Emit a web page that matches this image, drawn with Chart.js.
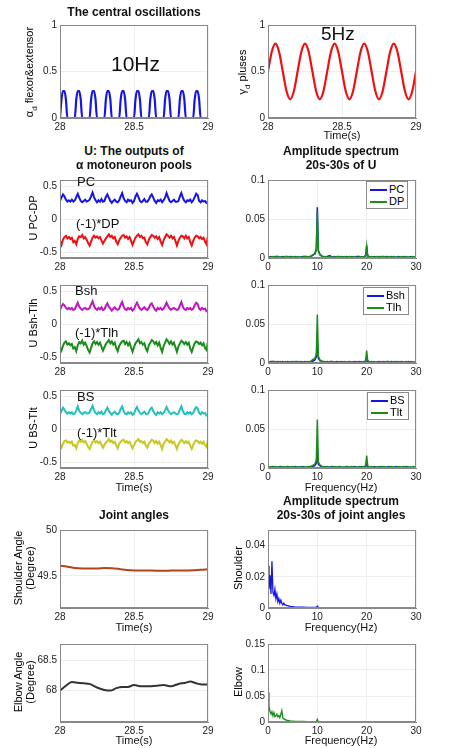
<!DOCTYPE html>
<html><head><meta charset="utf-8">
<script src="https://cdn.jsdelivr.net/npm/chart.js@4.4.1/dist/chart.umd.min.js"></script>
<style>
body{margin:0;width:474px;height:748px;background:#fff;position:relative;overflow:hidden;font-family:"Liberation Sans",Arial,sans-serif;}
canvas{position:absolute;}
.t{position:absolute;white-space:nowrap;color:#111;}
.b{font-weight:bold;font-size:12px;transform:translateX(-50%);text-align:center;}
.ax{font-size:11px;transform:translateX(-50%);}
.rot{position:absolute;font-size:11px;white-space:nowrap;transform:translate(-50%,-50%) rotate(-90deg);text-align:center;line-height:12px;}
.lg{position:absolute;border:1px solid #888;background:#fff;font-size:11px;line-height:12px;padding:1px 3px;}
.lg span{display:inline-block;width:17px;height:2px;vertical-align:middle;margin-right:2px;}
</style></head><body>
<script>
// ---------- data ----------
const ALPHA_D = [0,0.2,0.29,0.29,0.2,0,0,0,0,0, 0,0.2,0.29,0.29,0.2,0,0,0,0,0, 0,0.2,0.29,0.29,0.2,0,0,0,0,0, 0,0.2,0.29,0.29,0.2,0,0,0,0,0, 0,0.2,0.29,0.29,0.2,0,0,0,0,0,
 0,0.2,0.29,0.29,0.2,0,0,0,0,0, 0,0.2,0.29,0.29,0.2,0,0,0,0,0, 0,0.2,0.29,0.29,0.2,0,0,0,0,0, 0,0.2,0.29,0.29,0.2,0,0,0,0,0, 0,0.2,0.29,0.29,0.2,0,0,0,0,0, 0];
const GAMMA_D = [0.5,0.71,0.8,0.71,0.5,0.29,0.2,0.29, 0.5,0.71,0.8,0.71,0.5,0.29,0.2,0.29, 0.5,0.71,0.8,0.71,0.5,0.29,0.2,0.29, 0.5,0.71,0.8,0.71,0.5,0.29,0.2,0.29, 0.5,0.71,0.8,0.71,0.5,0.29,0.2,0.29, 0.5];
const U_PC = [0.28,0.33,0.38,0.35,0.30,0.27,0.29,0.27,0.30,0.27, 0.29,0.34,0.39,0.33,0.28,0.26,0.28,0.30,0.27,0.28, 0.30,0.35,0.41,0.34,0.29,0.26,0.29,0.27,0.31,0.27, 0.28,0.34,0.38,0.33,0.28,0.25,0.28,0.30,0.27,0.26,
 0.29,0.35,0.40,0.32,0.28,0.26,0.30,0.28,0.29,0.25, 0.28,0.35,0.39,0.34,0.28,0.26,0.28,0.31,0.27,0.27, 0.30,0.35,0.38,0.33,0.28,0.25,0.29,0.28,0.30,0.26, 0.29,0.33,0.40,0.34,0.28,0.26,0.28,0.30,0.27,0.27,
 0.28,0.35,0.40,0.33,0.28,0.26,0.29,0.28,0.30,0.26, 0.29,0.34,0.39,0.37,0.28,0.26,0.29,0.27,0.28,0.25, 0.25];
const U_DP = [-0.33,-0.39,-0.31,-0.27,-0.25,-0.29,-0.27,-0.30,-0.28,-0.35, -0.33,-0.38,-0.30,-0.26,-0.27,-0.24,-0.29,-0.27,-0.31,-0.36, -0.40,-0.34,-0.28,-0.25,-0.28,-0.26,-0.29,-0.27,-0.32,-0.37, -0.33,-0.29,-0.26,-0.23,-0.27,-0.25,-0.29,-0.27,-0.34,-0.38,
 -0.32,-0.28,-0.25,-0.24,-0.28,-0.26,-0.30,-0.27,-0.33,-0.39, -0.33,-0.28,-0.25,-0.23,-0.27,-0.25,-0.29,-0.28,-0.35,-0.38, -0.31,-0.27,-0.24,-0.25,-0.28,-0.26,-0.30,-0.27,-0.34,-0.39, -0.32,-0.27,-0.23,-0.25,-0.28,-0.25,-0.29,-0.27,-0.33,-0.40,
 -0.33,-0.28,-0.25,-0.26,-0.29,-0.25,-0.29,-0.27,-0.35,-0.40, -0.33,-0.28,-0.25,-0.26,-0.29,-0.27,-0.30,-0.28,-0.34,-0.38, -0.25];
const U_BSH = [0.22,0.27,0.31,0.29,0.25,0.23,0.25,0.23,0.25,0.22, 0.23,0.28,0.33,0.27,0.24,0.22,0.24,0.25,0.23,0.23, 0.25,0.30,0.35,0.28,0.24,0.22,0.25,0.23,0.26,0.22, 0.23,0.28,0.32,0.27,0.24,0.21,0.24,0.26,0.23,0.22,
 0.24,0.30,0.34,0.27,0.23,0.22,0.25,0.23,0.25,0.21, 0.23,0.29,0.33,0.28,0.24,0.22,0.24,0.26,0.23,0.22, 0.25,0.30,0.32,0.27,0.23,0.21,0.25,0.23,0.25,0.22, 0.24,0.28,0.33,0.28,0.24,0.22,0.24,0.25,0.23,0.22,
 0.23,0.29,0.34,0.27,0.23,0.22,0.25,0.23,0.25,0.22, 0.24,0.29,0.33,0.31,0.24,0.22,0.25,0.23,0.24,0.20, 0.20];
const U_TLH = [-0.35,-0.40,-0.33,-0.28,-0.26,-0.31,-0.29,-0.32,-0.30,-0.37, -0.35,-0.41,-0.32,-0.27,-0.29,-0.25,-0.31,-0.28,-0.33,-0.39, -0.43,-0.36,-0.29,-0.26,-0.30,-0.27,-0.31,-0.28,-0.34,-0.40, -0.35,-0.30,-0.27,-0.24,-0.29,-0.26,-0.31,-0.28,-0.36,-0.41,
 -0.33,-0.29,-0.26,-0.25,-0.30,-0.27,-0.32,-0.28,-0.35,-0.42, -0.35,-0.29,-0.26,-0.23,-0.29,-0.27,-0.31,-0.29,-0.37,-0.41, -0.32,-0.28,-0.24,-0.26,-0.30,-0.27,-0.32,-0.28,-0.36,-0.42, -0.33,-0.28,-0.23,-0.26,-0.30,-0.26,-0.31,-0.28,-0.35,-0.42,
 -0.34,-0.29,-0.25,-0.27,-0.30,-0.27,-0.31,-0.28,-0.37,-0.42, -0.35,-0.29,-0.26,-0.27,-0.30,-0.28,-0.32,-0.29,-0.36,-0.39, -0.26];
const U_BS = [0.23,0.28,0.33,0.30,0.26,0.24,0.26,0.24,0.26,0.23, 0.24,0.29,0.35,0.28,0.25,0.23,0.25,0.26,0.24,0.24, 0.26,0.31,0.36,0.29,0.25,0.23,0.26,0.24,0.27,0.23, 0.24,0.29,0.33,0.28,0.25,0.22,0.25,0.27,0.24,0.23,
 0.25,0.31,0.35,0.28,0.24,0.23,0.26,0.24,0.26,0.22, 0.24,0.30,0.34,0.29,0.25,0.23,0.25,0.27,0.24,0.23, 0.26,0.31,0.33,0.28,0.24,0.22,0.26,0.24,0.26,0.23, 0.25,0.29,0.34,0.29,0.25,0.23,0.25,0.26,0.24,0.23,
 0.24,0.30,0.35,0.28,0.24,0.23,0.26,0.24,0.26,0.23, 0.25,0.30,0.34,0.32,0.25,0.23,0.26,0.24,0.25,0.21, 0.21];
const U_TLT = [-0.24,-0.28,-0.22,-0.18,-0.17,-0.20,-0.19,-0.21,-0.19,-0.25, -0.24,-0.29,-0.21,-0.17,-0.19,-0.16,-0.20,-0.18,-0.22,-0.27, -0.30,-0.24,-0.19,-0.17,-0.20,-0.18,-0.21,-0.19,-0.23,-0.28, -0.24,-0.20,-0.18,-0.15,-0.19,-0.17,-0.21,-0.19,-0.24,-0.29,
 -0.22,-0.19,-0.17,-0.16,-0.20,-0.18,-0.21,-0.19,-0.24,-0.29, -0.24,-0.19,-0.17,-0.15,-0.19,-0.18,-0.21,-0.19,-0.25,-0.28, -0.22,-0.19,-0.16,-0.17,-0.21,-0.18,-0.22,-0.19,-0.24,-0.30, -0.22,-0.19,-0.15,-0.17,-0.20,-0.17,-0.21,-0.19,-0.24,-0.30,
 -0.23,-0.19,-0.16,-0.18,-0.21,-0.18,-0.21,-0.19,-0.25,-0.30, -0.24,-0.19,-0.17,-0.18,-0.21,-0.19,-0.22,-0.19,-0.24,-0.27, -0.17];
const FREQ = [0,0.5,1,1.5,2,2.5,3,3.5,4,4.5,5,5.5,6,6.5,7,7.5,8,8.5,9,9.5, 9.8,10,10.2,
 10.5,11,11.5,12,12.5,13,13.5,14,14.5,15,15.5,16,16.5,17,17.5,18,18.5,19,19.5, 19.8,20,20.2,
 20.5,21,21.5,22,22.5,23,23.5,24,24.5,25,25.5,26,26.5,27,27.5,28,28.5,29,29.5,30];
const S_PC = [0.001,0.002,0.001,0.002,0.002,0.001,0.002,0.001,0.001,0.002,0.001,0.002,0.001,0.001,0.002,0.002,0.001,0.002,0.003,0.006, 0.012,0.065,0.010,
 0.005,0.002,0.001,0.002,0.003,0.001,0.002,0.001,0.001,0.002,0.001,0.002,0.001,0.002,0.001,0.002,0.002,0.001,0.002, 0.003,0.016,0.003,
 0.002,0.001,0.002,0.001,0.002,0.001,0.001,0.002,0.001,0.002,0.001,0.001,0.002,0.001,0.002,0.001,0.001,0.002,0.001,0.001];
const S_DP = [0.002,0.001,0.002,0.001,0.002,0.001,0.001,0.002,0.002,0.001,0.002,0.001,0.002,0.001,0.001,0.002,0.002,0.001,0.004,0.005, 0.010,0.060,0.009,
 0.004,0.002,0.002,0.001,0.002,0.001,0.001,0.002,0.002,0.001,0.002,0.001,0.002,0.001,0.002,0.001,0.001,0.002,0.001, 0.003,0.015,0.002,
 0.001,0.002,0.001,0.002,0.001,0.002,0.002,0.001,0.002,0.001,0.002,0.001,0.001,0.002,0.001,0.002,0.001,0.001,0.002,0.001];
const S_BSH = [0.001,0.002,0.002,0.001,0.002,0.001,0.002,0.001,0.002,0.001,0.002,0.001,0.001,0.002,0.001,0.002,0.001,0.002,0.002,0.004, 0.008,0.030,0.006,
 0.003,0.002,0.001,0.002,0.001,0.002,0.001,0.002,0.001,0.002,0.001,0.001,0.002,0.001,0.002,0.001,0.002,0.001,0.002, 0.002,0.008,0.002,
 0.001,0.002,0.001,0.001,0.002,0.001,0.002,0.001,0.001,0.002,0.001,0.002,0.001,0.002,0.001,0.001,0.002,0.001,0.001,0.001];
const S_TLH = [0.002,0.001,0.002,0.002,0.001,0.002,0.001,0.002,0.001,0.002,0.001,0.002,0.002,0.001,0.002,0.001,0.002,0.001,0.004,0.006, 0.011,0.062,0.009,
 0.004,0.002,0.002,0.001,0.002,0.002,0.001,0.001,0.002,0.001,0.002,0.001,0.002,0.001,0.001,0.002,0.001,0.002,0.001, 0.003,0.016,0.003,
 0.002,0.001,0.002,0.001,0.001,0.002,0.001,0.002,0.002,0.001,0.002,0.001,0.002,0.001,0.001,0.002,0.001,0.002,0.001,0.001];
const S_BS = [0.001,0.001,0.002,0.001,0.001,0.002,0.001,0.001,0.002,0.001,0.001,0.002,0.001,0.001,0.002,0.001,0.001,0.002,0.002,0.003, 0.006,0.025,0.005,
 0.003,0.001,0.002,0.001,0.001,0.002,0.001,0.001,0.002,0.001,0.001,0.002,0.001,0.001,0.002,0.001,0.001,0.002,0.001, 0.002,0.007,0.002,
 0.001,0.001,0.002,0.001,0.001,0.002,0.001,0.001,0.002,0.001,0.001,0.002,0.001,0.001,0.001,0.002,0.001,0.001,0.001,0.001];
const S_TLT = [0.001,0.002,0.001,0.002,0.001,0.001,0.002,0.001,0.002,0.001,0.002,0.001,0.001,0.002,0.001,0.001,0.002,0.001,0.003,0.005, 0.010,0.062,0.008,
 0.004,0.002,0.001,0.002,0.001,0.001,0.002,0.001,0.002,0.001,0.001,0.002,0.001,0.002,0.001,0.001,0.002,0.001,0.002, 0.003,0.016,0.003,
 0.001,0.002,0.001,0.001,0.002,0.001,0.002,0.001,0.001,0.002,0.001,0.001,0.002,0.001,0.002,0.001,0.001,0.001,0.002,0.001];
const SHOULDER_T = [28,28.05,28.1,28.15,28.2,28.25,28.3,28.35,28.4,28.45,28.5,28.55,28.6,28.65,28.7,28.75,28.8,28.85,28.9,28.95,29];
const SHOULDER_ANG = [49.61,49.60,49.585,49.58,49.58,49.58,49.585,49.583,49.575,49.565,49.56,49.56,49.558,49.556,49.555,49.558,49.56,49.56,49.562,49.568,49.572];
const ELBOW_T = [28,28.04,28.08,28.12,28.16,28.2,28.25,28.3,28.34,28.38,28.42,28.46,28.5,28.55,28.6,28.65,28.7,28.75,28.8,28.85,28.88,28.92,28.96,29];
const ELBOW_ANG = [68.0,68.08,68.14,68.13,68.12,68.11,68.05,68.01,68.0,68.04,68.06,68.06,68.09,68.07,68.07,68.08,68.09,68.07,68.11,68.13,68.15,68.12,68.1,68.1];
const JFREQ = [0,0.2,0.4,0.6,0.8,1,1.2,1.4,1.6,1.8,2,2.2,2.4,2.6,2.8,3,3.2,3.4,3.6,3.8,4, 4.5,5,5.5,6,7,8,9,9.8,10,10.2,
 11,12,13,14,15,16,17,18,19,20,21,22,23,24,25,26,27,28,29,30];
const S_SHOULDER = [0.027,0.012,0.021,0.009,0.030,0.010,0.008,0.012,0.006,0.009,0.004,0.006,0.003,0.005,0.003,0.002,0.003,0.002,0.002,0.0015,0.0015, 0.001,0.0008,0.0006,0.0005,0.0005,0.0004,0.0004,0.0004,0.0012,0.0004,
 0.0003,0.0003,0.0003,0.0003,0.0003,0.0003,0.0003,0.0003,0.0003,0.0003,0.0003,0.0003,0.0003,0.0003,0.0003,0.0003,0.0003,0.0003,0.0003,0.0003];
const S_ELBOW = [0.057,0.030,0.020,0.015,0.020,0.012,0.018,0.010,0.012,0.015,0.010,0.012,0.008,0.015,0.022,0.008,0.006,0.005,0.004,0.003,0.003, 0.002,0.0015,0.001,0.001,0.001,0.0008,0.0008,0.0008,0.005,0.0008,
 0.0006,0.0006,0.0006,0.0006,0.0006,0.0006,0.0006,0.0006,0.0006,0.0006,0.0006,0.0006,0.0006,0.0006,0.0006,0.0006,0.0006,0.0006,0.0006,0.0006];
const T_TICKS = [28,28.5,29], F_TICKS = [0,10,20,30];

// ---------- helpers ----------
function steps(a,b,n){const r=[];for(let i=0;i<n;i++)r.push(+(a+(b-a)*i/(n-1)).toFixed(4));return r;}
const T01 = steps(28,29,101), T025 = steps(28,29,41);
function pts(xs,ys){return ys.map((y,i)=>({x:xs[i],y}));}
function chart(L,T,W,H,xr,xt,yr,yt,sets){
  const YW=30,PT=7,PR=10,XH=16;
  const c=document.createElement('canvas');
  c.style.left=(L-YW)+'px';c.style.top=(T-PT)+'px';
  c.style.width=(W+YW+PR)+'px';c.style.height=(H+PT+XH)+'px';
  c.width=W+YW+PR;c.height=H+PT+XH;
  document.body.appendChild(c);
  const fmt=v=>String(+v.toFixed(4));
  new Chart(c,{type:'line',data:{datasets:sets.map((s,i)=>({data:s.d,borderColor:s.c,borderWidth:s.w||2,pointRadius:0,
     tension:s.smooth?0.4:0,cubicInterpolationMode:s.smooth?'monotone':'default',fill:false,order:s.o===undefined?i:s.o}))},
   options:{animation:false,responsive:false,devicePixelRatio:1,layout:{padding:{top:PT,right:PR,left:0,bottom:0}},
    plugins:{legend:{display:false},tooltip:{enabled:false}},
    scales:{
     x:{type:'linear',min:xr[0],max:xr[1],afterFit:a=>{a.height=XH;},afterBuildTicks:a=>{a.ticks=xt.map(v=>({value:v}));},
        grid:{color:'#eeeeee',drawTicks:false},border:{color:'#888'},ticks:{color:'#222',font:{family:'Liberation Sans',size:10},padding:3,maxRotation:0,callback:fmt}},
     y:{type:'linear',min:yr[0],max:yr[1],afterFit:a=>{a.width=YW;},afterBuildTicks:a=>{a.ticks=yt.map(v=>({value:v}));},
        grid:{color:'#eeeeee',drawTicks:false},border:{color:'#888'},ticks:{color:'#222',font:{family:'Liberation Sans',size:10},padding:3,callback:fmt}}
    }},
   plugins:[{id:'box',afterDraw(ch){const a=ch.chartArea,g=ch.ctx;g.save();g.strokeStyle='#888';g.lineWidth=1;g.strokeRect(a.left+0.5,a.top+0.5,a.right-a.left-1,a.bottom-a.top-1);g.restore();}}]
  });
}
function txt(cls,x,y,html,style){const d=document.createElement('div');d.className=cls;d.style.left=x+'px';d.style.top=y+'px';d.innerHTML=html;if(style)d.style.cssText+=style;document.body.appendChild(d);}
function legend(x,y,a,b,ca,cb){const d=document.createElement('div');d.className='lg';d.style.left=x+'px';d.style.top=y+'px';
 d.innerHTML='<div><span style="background:'+ca+'"></span>'+a+'</div><div><span style="background:'+cb+'"></span>'+b+'</div>';document.body.appendChild(d);}

const BLUE='#1515e6',RED='#ee1111',MAG='#c015c0',GRN='#1a8c1a',CYA='#22c0c0',YEL='#c8c820';
const LX=60,LW=148,RX=268,RW=148;
// row 1
chart(LX,23,LW,95,[28,29],T_TICKS,[0,1],[0,0.5,1],[{d:pts(T01,ALPHA_D),c:BLUE,smooth:1,w:2.2}]);
chart(RX,23,RW,95,[28,29],T_TICKS,[0,1],[0,0.5,1],[{d:pts(T025,GAMMA_D),c:RED,smooth:1,w:2.2}]);
// U rows
const UY=[178,283,388], UR=[-0.59,0.6], UT=[-0.5,0,0.5];
chart(LX,UY[0],LW,80,[28,29],T_TICKS,UR,UT,[{d:pts(T01,U_PC),c:BLUE},{d:pts(T01,U_DP),c:RED}]);
chart(LX,UY[1],LW,80,[28,29],T_TICKS,UR,UT,[{d:pts(T01,U_BSH),c:MAG},{d:pts(T01,U_TLH),c:GRN}]);
chart(LX,UY[2],LW,80,[28,29],T_TICKS,UR,UT,[{d:pts(T01,U_BS),c:CYA},{d:pts(T01,U_TLT),c:YEL}]);
// spectra: green drawn on top of blue (lower order = on top)
chart(RX,UY[0],RW,80,[0,30],F_TICKS,[0,0.1],[0,0.05,0.1],[{d:pts(FREQ,S_PC),c:BLUE,w:1.5,o:2},{d:pts(FREQ,S_DP),c:GRN,w:1.5,o:1}]);
chart(RX,UY[1],RW,80,[0,30],F_TICKS,[0,0.1],[0,0.05,0.1],[{d:pts(FREQ,S_BSH),c:BLUE,w:1.5,o:2},{d:pts(FREQ,S_TLH),c:GRN,w:1.5,o:1}]);
chart(RX,UY[2],RW,80,[0,30],F_TICKS,[0,0.1],[0,0.05,0.1],[{d:pts(FREQ,S_BS),c:BLUE,w:1.5,o:2},{d:pts(FREQ,S_TLT),c:GRN,w:1.5,o:1}]);
// joints
chart(LX,528,LW,80,[28,29],T_TICKS,[49.15,50],[49.5,50],[{d:pts(SHOULDER_T,SHOULDER_ANG),c:'#b8401a',w:2,smooth:1}]);
chart(LX,642,LW,80,[28,29],T_TICKS,[67.48,68.77],[68,68.5],[{d:pts(ELBOW_T,ELBOW_ANG),c:'#333333',w:2,smooth:1}]);
chart(RX,528,RW,80,[0,30],F_TICKS,[0,0.05],[0,0.02,0.04],[{d:pts(JFREQ,S_SHOULDER),c:BLUE,w:1.3}]);
chart(RX,642,RW,80,[0,30],F_TICKS,[0,0.15],[0,0.05,0.1,0.15],[{d:pts(JFREQ,S_ELBOW),c:GRN,w:1.3}]);

// titles
txt('t b',134,5,'The central oscillations');
txt('t b',134,144,'U: The outputs of');
txt('t b',134,158,'&alpha; motoneuron pools');
txt('t b',341,144,'Amplitude spectrum');
txt('t b',341,158,'20s-30s of U');
txt('t b',134,508,'Joint angles');
txt('t b',341,494,'Amplitude spectrum');
txt('t b',341,508,'20s-30s of joint angles');
// x titles
txt('t ax',342,129,'Time(s)');
txt('t ax',134,481,'Time(s)');
txt('t ax',341,481,'Frequency(Hz)');
txt('t ax',134,621,'Time(s)');
txt('t ax',341,621,'Frequency(Hz)');
txt('t ax',134,734,'Time(s)');
txt('t ax',341,734,'Frequency(Hz)');
// y titles
txt('rot',32,72,'&alpha;<sub style="font-size:8px">d</sub> flexor&amp;extensor');
txt('rot',245,72,'&gamma;<sub style="font-size:8px">d</sub> pluses');
txt('rot',33,218,'U PC-DP');
txt('rot',33,323,'U Bsh-Tlh');
txt('rot',33,428,'U BS-Tlt');
txt('rot',24,568,'Shoulder Angle<br>(Degree)');
txt('rot',24,682,'Elbow Angle<br>(Degree)');
txt('rot',238,568,'Shoulder');
txt('rot',238,682,'Elbow');
// annotations
txt('t',111,52,'10Hz','font-size:21px;');
txt('t',321,23,'5Hz','font-size:19px;');
txt('t',77,174,'PC','font-size:13px;');
txt('t',76,216,'(-1)*DP','font-size:13px;');
txt('t',75,283,'Bsh','font-size:13px;');
txt('t',75,325,'(-1)*Tlh','font-size:13px;');
txt('t',77,389,'BS','font-size:13px;');
txt('t',77,425,'(-1)*Tlt','font-size:13px;');
legend(366,181,'PC','DP',BLUE,GRN);
legend(363,287,'Bsh','Tlh',BLUE,GRN);
legend(367,392,'BS','Tlt',BLUE,GRN);
</script>
</body></html>
